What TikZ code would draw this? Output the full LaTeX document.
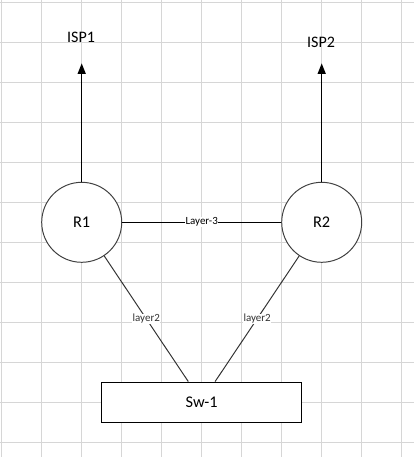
\documentclass[tikz,border=0pt]{standalone}
\usepackage{fontspec}
\setmainfont{Carlito}
\usetikzlibrary{positioning,arrows.meta}

\begin{document}
\begin{tikzpicture}[x=0.5cm, y=0.5cm,
    router/.style={circle, draw=black!75, line width=0.7pt, fill=white, minimum size=2cm, inner sep=0pt, font=\fontsize{11.6}{13}\selectfont},
    switch/.style={rectangle, draw=black, line width=1.05pt, fill=white, minimum width=5cm, minimum height=1cm, font=\fontsize{11.6}{13}\selectfont},
    isp/.style={font=\fontsize{11.4}{13}\selectfont},
    link/.style={fill=white, inner sep=0.4pt, font=\fontsize{7.8}{9}\selectfont},
    uplink/.style={-{Triangle[length=7.6pt, width=5.7pt]}, line width=1.05pt}]
            \useasboundingbox (-0.085, 0.115) rectangle (20.615, -22.735);
            \draw[black!16, line width=0.7pt] (-0.085, -22.735) grid (20.615, 0.115);

            \node[router](R1) at (4, -11) {R1};
            \node[router](R2) at (16, -11) {R2};
            \node[switch](Sw1) at (10, -20) {Sw-1};

            \node[isp](ISP1) at (3.97, -1.73) {ISP1};
            \node[isp](ISP2) at (15.97, -2.0) {ISP2};
            \coordinate (tip1) at (4, -3.05);
            \coordinate (tip2) at (16, -3.05);

            \draw[uplink] (R1) to (tip1);
            \draw[uplink] (R2) to (tip2);

            \draw[-, line width=1.05pt] (R1) to node[link]{Layer-3} (R2);
            \draw[-, black!80, line width=0.7pt] (R1) to node[link]{layer2} ([xshift=-0.335cm]Sw1.north);
            \draw[-, black!80, line width=0.7pt] (R2) to node[link]{layer2} ([xshift=0.335cm]Sw1.north);

        \end{tikzpicture}
\end{document}
